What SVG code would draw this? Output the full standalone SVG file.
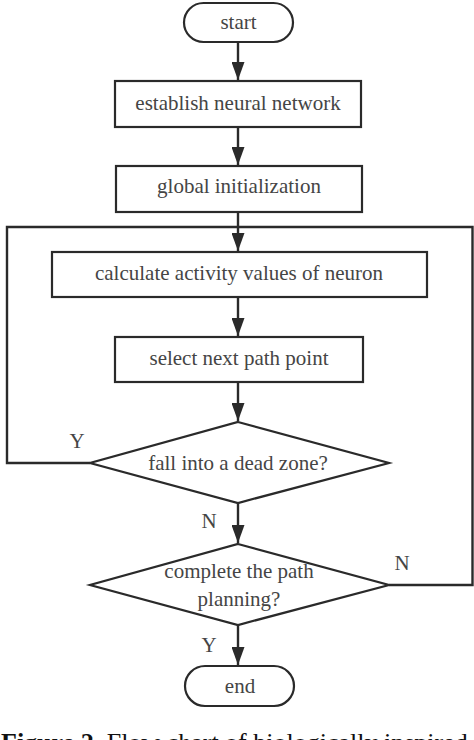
<svg xmlns="http://www.w3.org/2000/svg" width="474" height="740" viewBox="0 0 474 740">
<style>
.box{fill:#fff;stroke:#2a2a2a;stroke-width:2.2}
.t{font-family:"Liberation Serif","Times New Roman",serif;font-size:21px;fill:#454545;text-anchor:middle}
.lbl{font-family:"Liberation Serif","Times New Roman",serif;font-size:21px;fill:#454545;text-anchor:middle}
.c{fill:none;stroke:#2a2a2a;stroke-width:2.4}
.cap{font-family:"Liberation Serif","Times New Roman",serif;font-size:26px;fill:#111}
</style>
<defs>
<marker id="ah" markerUnits="userSpaceOnUse" viewBox="0 0 18 13" markerWidth="18" markerHeight="13" refX="18" refY="6.5" orient="auto">
<path d="M0,0 L18,6.5 L0,13 z" fill="#2a2a2a"/>
</marker>
</defs>
<rect width="474" height="740" fill="#fff"/>
<g id="connectors">
<path class="c" d="M238,42 V80" marker-end="url(#ah)"/>
<path class="c" d="M238,127 V165" marker-end="url(#ah)"/>
<path class="c" d="M238,212 V251" marker-end="url(#ah)"/>
<path class="c" d="M238,297 V336" marker-end="url(#ah)"/>
<path class="c" d="M238,382 V421" marker-end="url(#ah)"/>
<path class="c" d="M238,503 V543" marker-end="url(#ah)"/>
<path class="c" d="M238,625 V665" marker-end="url(#ah)"/>
<path class="c" d="M90,463 H7 V227 H238"/>
<path class="c" d="M389,585 H472.5 V227 H238"/>
<text class="lbl" x="77" y="448">Y</text>
<text class="lbl" x="209" y="528">N</text>
<text class="lbl" x="402" y="570">N</text>
<text class="lbl" x="209" y="652">Y</text>
</g>
<g id="start">
<rect class="box" x="184" y="3" width="109" height="39" rx="19.5"/>
<text class="t" x="238.5" y="29">start</text>
</g>
<g id="establish">
<rect class="box" x="115" y="81" width="246" height="46"/>
<text class="t" x="238" y="110">establish neural network</text>
</g>
<g id="init">
<rect class="box" x="116" y="166" width="246" height="46"/>
<text class="t" x="239" y="193">global initialization</text>
</g>
<g id="calc">
<rect class="box" x="52" y="252" width="375" height="45"/>
<text class="t" x="239" y="280">calculate activity values of neuron</text>
</g>
<g id="select">
<rect class="box" x="115" y="337" width="248" height="45"/>
<text class="t" x="239" y="365">select next path point</text>
</g>
<g id="deadzone">
<polygon class="box" points="238,422 389,463 238,503 90,463"/>
<text class="t" x="238" y="470">fall into a dead zone?</text>
</g>
<g id="complete">
<polygon class="box" points="238,544 389,585 238,625 90,585"/>
<text class="t" x="239" y="578">complete the path</text>
<text class="t" x="239" y="606">planning?</text>
</g>
<g id="end">
<rect class="box" x="185" y="666" width="109" height="40" rx="20"/>
<text class="t" x="240" y="693">end</text>
</g>
<text class="cap" x="1" y="751"><tspan font-weight="bold">Figure 2.</tspan> Flow chart of biologically inspired</text>
</svg>
